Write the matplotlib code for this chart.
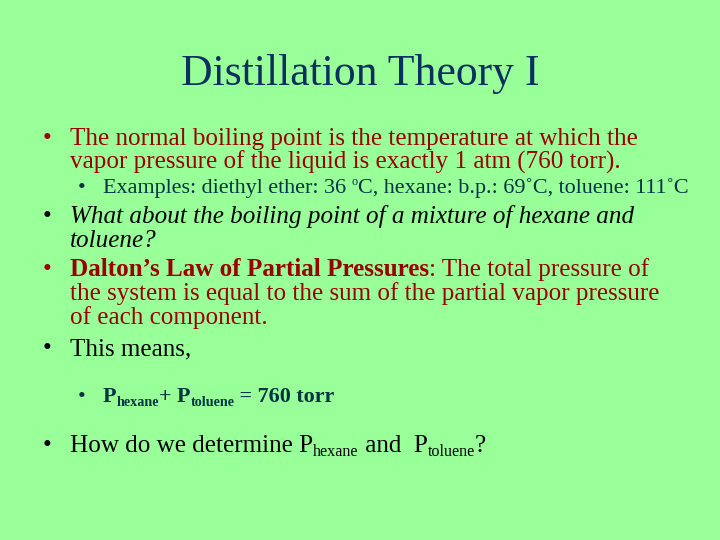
import matplotlib
matplotlib.use("Agg")
import matplotlib.pyplot as plt

plt.rcParams['font.family'] = ['Liberation Serif', 'DejaVu Serif']

BG = '#99ff99'
NAVY = '#0b3060'
RED = '#990000'
TEAL = '#003344'
BLACK = '#000000'

title = "Distillation Theory I"

# bullet lines: (indent level, baseline y in px, colour of bullet, runs)
# a run is (text, colour, weight, style, sub)
lines = [
    (1, 145, RED, [("The normal boiling point is the temperature at which the", RED, 'normal', 'normal', False)]),
    (0, 169, None, [("vapor pressure of the liquid is exactly 1 atm (760 torr).", RED, 'normal', 'normal', False)]),
    (2, 193, TEAL, [("Examples: diethyl ether: 36 ", TEAL, 'normal', 'normal', False),
                    ("o", TEAL, 'normal', 'normal', 'sup'),
                    ("C, hexane: b.p.: 69\u02daC, toluene: 111\u02daC", TEAL, 'normal', 'normal', False)]),
    (1, 223, BLACK, [("What about the boiling point of a mixture of hexane and", BLACK, 'normal', 'italic', False)]),
    (0, 247, None, [("toluene?", BLACK, 'normal', 'italic', False)]),
    (1, 276, RED, [("Dalton\u2019s Law of Partial Pressures", RED, 'bold', 'normal', False),
                   (": The total pressure of", RED, 'normal', 'normal', False)]),
    (0, 300, None, [("the system is equal to the sum of the partial vapor pressure", RED, 'normal', 'normal', False)]),
    (0, 324, None, [("of each component.", RED, 'normal', 'normal', False)]),
    (1, 355, BLACK, [("This means,", BLACK, 'normal', 'normal', False)]),
    (2, 402, TEAL, [("P", TEAL, 'bold', 'normal', False),
                    ("hexane", TEAL, 'bold', 'normal', 'sub'),
                    ("+ P", TEAL, 'bold', 'normal', False),
                    ("toluene", TEAL, 'bold', 'normal', 'sub'),
                    (" = 760 torr", TEAL, 'bold', 'normal', False)]),
    (1, 452, BLACK, [("How do we determine P", BLACK, 'normal', 'normal', False),
                     ("hexane", BLACK, 'normal', 'normal', 'sub'),
                     (" and  P", BLACK, 'normal', 'normal', False),
                     ("toluene", BLACK, 'normal', 'normal', 'sub'),
                     ("?", BLACK, 'normal', 'normal', False)]),
]

W, H = 720, 540
fig = plt.figure(figsize=(7.2, 5.4), dpi=100, facecolor=BG)
renderer = fig.canvas.get_renderer()

def px(x, y):
    return x / W, 1 - y / H

fig.text(*px(360, 85), title, color=NAVY, fontsize=31.5, ha='center', va='baseline')

sizes = {1: 18.1, 0: 18.1, 2: 15.9}
text_x = {1: 70, 0: 70, 2: 103}
bullet_x = {1: 47, 2: 82}

for level, y, bcol, runs in lines:
    size = sizes[level]
    if bcol is not None:
        fig.text(*px(bullet_x[level], y), "\u2022", color=bcol, fontsize=size,
                 ha='center', va='baseline')
    x = text_x[level]
    for txt, col, weight, style, sub in runs:
        fs, dy = size, 0
        if sub == 'sub':
            fs, dy = size * 0.64, 4
        elif sub == 'sup':
            fs, dy = size * 0.55, -8
        t = fig.text(*px(x, y + dy), txt, color=col, fontsize=fs, fontweight=weight,
                     fontstyle=style, ha='left', va='baseline')
        bb = t.get_window_extent(renderer=renderer)
        x += bb.width

fig.savefig("out.png", dpi=100, facecolor=BG)
